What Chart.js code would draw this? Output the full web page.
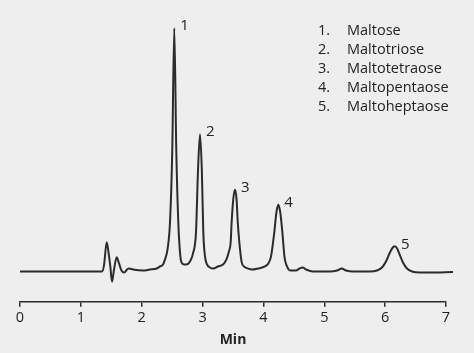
<!DOCTYPE html>
<html>
<head>
<meta charset="utf-8">
<script src="https://cdn.jsdelivr.net/npm/chart.js@4/dist/chart.umd.min.js"></script>
<style>
    body { margin: 0; background: #eeeeee; }
    #wrap { position: relative; width: 474px; height: 353px; }
    #legend {
        position: absolute; left: 318px; top: 20px;
        font: 14.5px "Open Sans", sans-serif; color: #222; line-height: 19px;
    }
    #legend div { display: flex; }
    #legend span.num { width: 29px; }
</style>
</head>
<body>
<div id="wrap">
    <canvas id="chromChart"></canvas>
    <div id="legend"></div>
</div>
<script>
// Retention time (min) and detector signal
const times = [
    0, 0.657, 1.347, 1.38, 1.425, 1.463, 1.484, 1.512, 1.545, 1.589, 1.627, 1.668,
    1.714, 1.758, 1.791, 1.857, 2.021, 2.136, 2.246, 2.30, 2.35, 2.383, 2.424,
    2.465, 2.502, 2.535, 2.568, 2.601, 2.629, 2.654, 2.695, 2.728, 2.793, 2.843,
    2.892, 2.925, 2.958, 2.988, 3.012, 3.04, 3.073, 3.122, 3.176, 3.253, 3.336,
    3.393, 3.434, 3.462, 3.478, 3.505, 3.533, 3.558, 3.578, 3.604, 3.643, 3.68,
    3.746, 3.807, 3.91, 4.026, 4.08, 4.125, 4.179, 4.212, 4.245, 4.278, 4.311,
    4.347, 4.388, 4.437, 4.536, 4.593, 4.645, 4.70, 4.815, 5.094, 5.21, 5.286,
    5.357, 5.472, 5.751, 5.866, 5.948, 6.014, 6.08, 6.129, 6.162, 6.195, 6.244,
    6.293, 6.359, 6.441, 6.573, 6.737, 7.115
];
const signal = [
    0, 0, 0, 6, 29, 15, 5, -10, 2, 14, 8, 1,
    -1, 2, 3, 2, 1, 2, 3, 5, 7, 12, 22,
    49, 120, 241, 120, 49, 19, 9, 7, 7, 10, 18,
    39, 100, 136, 100, 39, 15, 7, 4, 3, 5, 7,
    12, 20, 29, 49, 72, 81, 72, 49, 29, 9, 5,
    3, 2, 3, 5, 8, 15, 39, 58, 66, 58, 39,
    14, 5, 1, 1, 3, 4, 2, 0, 0, 1, 3,
    1, 0, 0, 1, 4, 10, 19, 24, 25, 23, 16,
    9, 3, 0, -1, -1, -0.5
];

// Peak numbering
const peakNames = ['1', '2', '3', '4', '5'];
const peakTimes = [2.535, 2.958, 3.533, 4.245, 6.162];
const peakHeights = [241, 136, 81, 66, 25];

const compounds = ['Maltose', 'Maltotriose', 'Maltotetraose', 'Maltopentaose', 'Maltoheptaose'];

const xTicks = [0, 1, 2, 3, 4, 5, 6, 7];

// Draw the peak numbers next to each apex
const peakLabelPlugin = {
    id: 'peakLabels',
    afterDatasetsDraw(chart) {
        const ctx = chart.ctx;
        const xs = chart.scales.x;
        const ys = chart.scales.y;
        ctx.save();
        ctx.font = '15px "Open Sans", sans-serif';
        ctx.fillStyle = '#222';
        ctx.textAlign = 'left';
        ctx.textBaseline = 'middle';
        peakNames.forEach((name, i) => {
            const px = xs.getPixelForValue(peakTimes[i]) + 6;
            const py = ys.getPixelForValue(peakHeights[i]) - 2;
            ctx.fillText(name, px, py);
        });
        ctx.restore();
    }
};

function createChart() {
    const ctx = document.getElementById('chromChart').getContext('2d');
    new Chart(ctx, {
        type: 'line',
        data: {
            datasets: [{
                data: times.map((t, i) => ({ x: t, y: signal[i] })),
                borderColor: '#2b2b2b',
                borderWidth: 2,
                pointRadius: 0,
                cubicInterpolationMode: 'monotone',
                clip: false
            }]
        },
        options: {
            responsive: true,
            maintainAspectRatio: false,
            animation: false,
            layout: { padding: { left: 20, right: 28, top: 10, bottom: 5 } },
            plugins: {
                legend: { display: false },
                tooltip: { enabled: false }
            },
            scales: {
                x: {
                    type: 'linear',
                    min: xTicks[0],
                    max: xTicks[xTicks.length - 1],
                    afterBuildTicks: axis => {
                        axis.ticks = xTicks.map(v => ({ value: v }));
                    },
                    border: { color: '#2b2b2b', width: 1.5 },
                    grid: {
                        drawOnChartArea: false,
                        tickLength: 5,
                        tickColor: '#2b2b2b',
                        lineWidth: 1.5
                    },
                    ticks: {
                        color: '#222',
                        font: { family: '"Open Sans", sans-serif', size: 14.5 },
                        padding: 2
                    },
                    title: {
                        display: true,
                        text: 'Min',
                        color: '#222',
                        font: { family: '"Open Sans", sans-serif', size: 14, weight: 'bold' },
                        padding: { top: 3, bottom: 0 }
                    }
                },
                y: {
                    display: false,
                    min: -30,
                    max: 259
                }
            }
        },
        plugins: [peakLabelPlugin]
    });
}

function buildLegend() {
    const box = document.getElementById('legend');
    compounds.forEach((name, i) => {
        const row = document.createElement('div');
        row.innerHTML = `<span class="num">${i + 1}.</span><span>${name}</span>`;
        box.appendChild(row);
    });
}

document.addEventListener('DOMContentLoaded', () => {
    createChart();
    buildLegend();
});
</script>
</body>
</html>
